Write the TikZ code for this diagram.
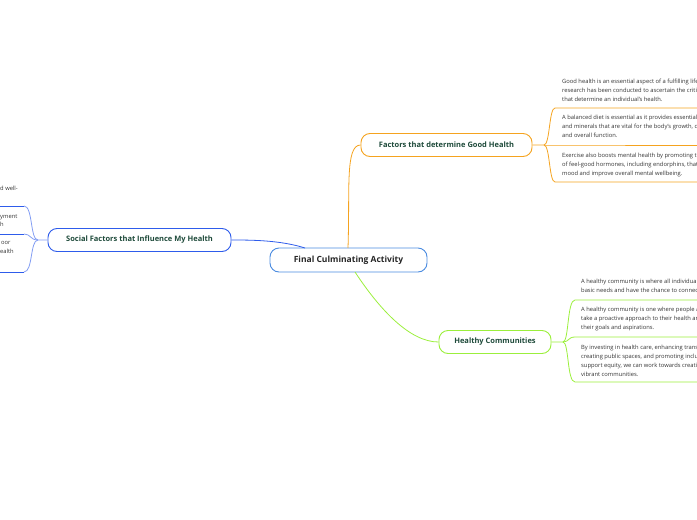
\documentclass[tikz,border=0pt]{standalone}
\usepackage{fontspec}
\setmainfont{Open Sans}
\definecolor{orng}{HTML}{F5A31F}
\definecolor{grn}{HTML}{9BEF3C}
\definecolor{blu}{HTML}{2E5CEB}
\definecolor{cblu}{HTML}{4A8BE0}
\definecolor{dtxt}{HTML}{1E4A3A}
\begin{document}
\begin{tikzpicture}[x=1pt,y=-1pt,
 branch/.style={draw,rounded corners=9pt,line width=0.9pt,minimum height=23pt,inner xsep=10pt,font=\fontsize{7.5}{9}\selectfont\bfseries,text=dtxt},
 leaf/.style={anchor=north west,align=left,inner sep=0pt,font=\fontsize{5.8}{8.8}\selectfont,text=black!80},
 con/.style={line width=0.8pt}]
\useasboundingbox (0,0) rectangle (697,520);
\begin{scope}
\clip (0,0) rectangle (697,520);
% central
\node[draw=cblu,line width=0.9pt,rounded corners=9pt,minimum width=157pt,minimum height=24pt,font=\fontsize{8.5}{10}\selectfont\bfseries,text=black!85] (c) at (348.5,260) {Final Culminating Activity};
% branches
\node[branch,draw=orng,minimum width=171pt] (f) at (446.5,145) {Factors that determine Good Health};
\node[branch,draw=grn,minimum width=112pt] (h) at (495,342) {Healthy Communities};
\node[branch,draw=blu,minimum width=183pt] (s) at (139.5,240) {Social Factors that Influence My Health};
\coordinate (c1) at (348,248);
\coordinate (c2) at (355,272);
\coordinate (c3) at (305,248);
\draw[con,orng] (c1) .. controls (350,190) and (345,145) .. (f.west);
\draw[con,grn] (c2) .. controls (380,310) and (410,342) .. (h.west);
\draw[con,blu] (c3) .. controls (280,240) and (250,240) .. (s.east);
% factor leaves
\node[leaf] (f1) at (562,79) {Good health is an essential aspect of a fulfilling life, and extensive\\research has been conducted to ascertain the critical factors\\that determine an individual's health.};
\node[leaf] (f2) at (562,115) {A balanced diet is essential as it provides essential nutrients, vitamins,\\and minerals that are vital for the body's growth, development,\\and overall function.};
\node[leaf] (f3) at (562,153) {Exercise also boosts mental health by promoting the release\\of feel-good hormones, including endorphins, that elevate\\mood and improve overall mental wellbeing.};
\coordinate (fa) at (555,108); \coordinate (fb) at (555,145); \coordinate (fc) at (555,182);
\draw[con,orng] (f.east) -- (544,145) .. controls (550,145) and (549,108) .. (fa) -- (697,108);
\draw[con,orng] (544,145) -- (fb) -- (697,145);
\draw[con,orng] (544,145) .. controls (550,145) and (549,182) .. (fc) -- (697,182);
% healthy leaves
\node[leaf] (h1) at (581,279) {A healthy community is where all individuals can meet their\\basic needs and have the chance to connect with others.};
\node[leaf] (h2) at (581,307) {A healthy community is one where people are empowered to\\take a proactive approach to their health and wellbeing and achieve\\their goals and aspirations.};
\node[leaf] (h3) at (581,345) {By investing in health care, enhancing transportation options,\\creating public spaces, and promoting inclusive policies that\\support equity, we can work towards creating healthier and more\\vibrant communities.};
\coordinate (ha) at (575,300); \coordinate (hb) at (575,337); \coordinate (hc) at (575,382);
\draw[con,grn] (h.east) -- (563,342) .. controls (569,342) and (567,300) .. (ha) -- (697,300);
\draw[con,grn] (563,342) .. controls (569,342) and (568,337) .. (hb) -- (697,337);
\draw[con,grn] (563,342) .. controls (569,342) and (567,382) .. (hc) -- (697,382);
% social leaves (cut off at left edge)
\node[leaf] (s1) at (0,186) {d well-};
\node[leaf] (s2) at (0,214) {yment\\h};
\node[leaf] (s3) at (0,241) {\,oor\\ealth};
\coordinate (sa) at (24,206); \coordinate (sb) at (24,234); \coordinate (sc) at (24,272);
\draw[con,blu!60] (s.west) -- (38,240) .. controls (30,240) and (33,206) .. (sa);
\draw[con,blu!60] (38,240) .. controls (30,240) and (31,234) .. (sb);
\draw[con,blu!60] (38,240) .. controls (30,240) and (33,272) .. (sc);
\draw[con,blu] (0,206) -- (sa) (0,234) -- (sb) (0,272) -- (sc);
\end{scope}
\end{tikzpicture}
\end{document}
